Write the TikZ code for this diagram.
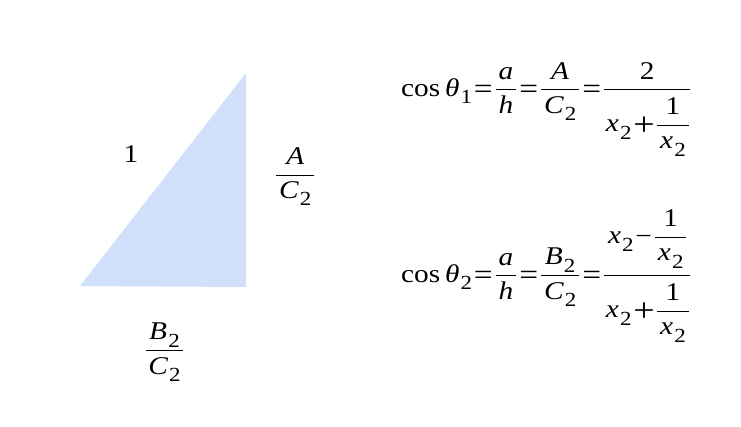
\documentclass[tikz,border=0pt]{standalone}
\usepackage{amsmath}
\usepackage{fontspec}
\setmainfont{Liberation Serif}
\definecolor{triblue}{RGB}{208,224,250}
\newcommand\vi[1]{\textit{#1}}
\newcommand\sub[1]{\kern1pt\lower7.5pt\hbox{\fontsize{20}{20}\selectfont #1}}
\newcommand\bsym[3]{\text{\raisebox{#2}{\fontsize{#3}{#3}\selectfont #1}}}
\newcommand\eqs{\kern1.5pt\bsym{=}{-2.5pt}{29}\kern1.5pt}
\newcommand\pls{\kern1.5pt\bsym{+}{-3.8pt}{33}\kern1pt}
\newcommand\mns{\kern1.5pt\bsym{−}{-1pt}{25.5}\kern1.5pt}
\newcommand\fr[2]{\dfrac{\kern2.5pt#1\kern2.5pt}{\kern2.5pt#2\kern2.5pt}}
\newcommand\hs[1]{\scalebox{1.15}[1]{#1}}
\newcommand\dstrut{\rule{0pt}{38.5pt}}
\newcommand\nstrut{\rule[-28.8pt]{0pt}{28.8pt}}
\begin{document}
\begin{tikzpicture}[x=1pt,y=-1pt,
  txt/.style={inner sep=0pt, font=\fontsize{25.5}{30}\selectfont}]
\useasboundingbox (0,0) rectangle (741,426);
\fill[triblue] (80,286) -- (246,73) -- (246,287) -- cycle;
\node[txt, anchor=base] (hyp) at (131,162.7) {\hs{1}};
\node[txt, anchor=base] (side) at (295.3,181.4) {\hs{$\fr{\vi{A}}{\vi{C}\sub{2}}$}};
\node[txt, anchor=base] (bottom) at (164.5,357.1) {\hs{$\fr{\vi{B}\sub{2}}{\vi{C}\sub{2}}$}};
\node[txt, anchor=base west] (eqone) at (401,96)
 {\hs{$\text{cos}\,\vi{θ}\sub{1}\eqs\fr{\vi{a}}{\vi{h}}\eqs\fr{\vi{A}}{\vi{C}\sub{2}}\eqs\dfrac{\text{2}}{\dstrut\kern1.5pt\vi{x}\sub{2}\pls\fr{\text{1}}{\vi{x}\sub{2}}}$}};
\node[txt, anchor=base west] (eqtwo) at (401,282)
 {\hs{$\text{cos}\,\vi{θ}\sub{2}\eqs\fr{\vi{a}}{\vi{h}}\eqs\fr{\vi{B}\sub{2}}{\vi{C}\sub{2}}\eqs\dfrac{\nstrut\kern1.5pt\vi{x}\sub{2}\mns\fr{\text{1}}{\vi{x}\sub{2}}}{\dstrut\kern1.5pt\vi{x}\sub{2}\pls\fr{\text{1}}{\vi{x}\sub{2}}}$}};
\end{tikzpicture}
\end{document}
